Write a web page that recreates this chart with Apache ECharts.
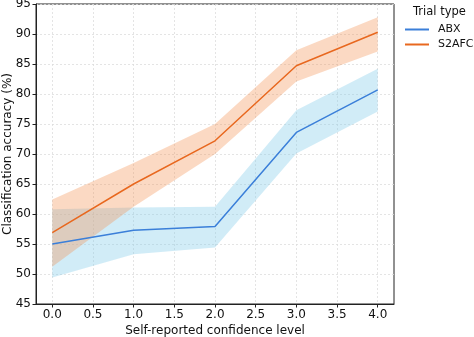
<!DOCTYPE html>
<html>
<head>
<meta charset="utf-8">
<script src="https://cdn.jsdelivr.net/npm/echarts@6/dist/echarts.min.js"></script>
<style>html,body{margin:0;padding:0;background:#fff}#c{width:474px;height:337px}</style>
</head>
<body>
<div id="c"></div>
<script>
const confidence = [0, 1, 2, 3, 4];
const xTicks = [0, 0.5, 1, 1.5, 2, 2.5, 3, 3.5, 4];
const abxMean  = [55.0, 57.3, 57.9, 73.6, 80.7];
const abxLow   = [49.4, 53.3, 54.4, 70.1, 77.1];
const abxHigh  = [60.8, 61.1, 61.2, 77.3, 84.2];
const s2Mean   = [56.9, 65.0, 72.2, 84.7, 90.3];
const s2Low    = [51.2, 61.2, 70.0, 82.1, 87.1];
const s2High   = [62.4, 68.5, 75.0, 87.3, 92.8];

const pairs = (ys) => confidence.map((x, i) => [x, ys[i]]);
const triples = (lo, hi) => confidence.map((x, i) => [x, lo[i], hi[i]]);

function bandRender(color) {
  return function (params, api) {
    if (params.dataIndexInside !== 0) return null;
    const n = params.dataInsideLength;
    const top = [], bottom = [];
    for (let j = 0; j < n; j++) {
      const x = api.value(0, j);
      top.push(api.coord([x, api.value(2, j)]));
      bottom.push(api.coord([x, api.value(1, j)]));
    }
    const pts = top.concat(bottom.reverse());
    return { type: 'polygon', shape: { points: pts }, style: { fill: color, stroke: null } };
  };
}

const font = 'DejaVu Sans';
const fs = 12;
const chart = echarts.init(document.getElementById('c'));
chart.setOption({
  animation: false,
  textStyle: { fontFamily: font },
  title: { text: 'Trial type', left: 413, top: 6, padding: 0, textStyle: { fontFamily: font, fontSize: 11.5, fontWeight: 'normal', color: '#111' } },
  legend: {
    data: ['ABX', 'S2AFC'], orient: 'vertical', left: 405, top: 23, padding: 0,
    icon: 'rect', itemWidth: 24, itemHeight: 2, itemGap: 2,
    textStyle: { fontFamily: font, fontSize: 11, color: '#111', padding: [0, 0, 0, 4], lineHeight: 13 }
  },
  grid: { left: 36, right: 80, top: 4, bottom: 33, containLabel: false, outerBoundsMode: 'none', show: true, borderColor: '#222', borderWidth: 1, backgroundColor: 'transparent' },
  xAxis: {
    type: 'value', min: -0.2, max: 4.2,
    name: 'Self-reported confidence level', nameLocation: 'middle', nameGap: 21, nameMoveOverlap: false,
    nameTextStyle: { fontFamily: font, fontSize: fs, color: '#111' },
    axisLine: { onZero: false, lineStyle: { color: '#222' } },
    axisTick: { show: true, customValues: xTicks, length: 3.5, lineStyle: { color: '#222' } },
    axisLabel: { customValues: xTicks, fontFamily: font, fontSize: fs, color: '#111', margin: 5, formatter: v => v.toFixed(1) },
    splitLine: { show: true, lineStyle: { color: '#ddd', type: [2, 2], width: 0.8 } }
  },
  yAxis: {
    type: 'value', min: 45, max: 95, interval: 5,
    name: 'Classification accuracy (%)', nameLocation: 'middle', nameGap: 22, nameMoveOverlap: false,
    nameTextStyle: { fontFamily: font, fontSize: fs, color: '#111' },
    axisLine: { show: true, onZero: false, lineStyle: { color: '#222' } },
    axisTick: { show: true, length: 3.5, lineStyle: { color: '#222' } },
    axisLabel: { fontFamily: font, fontSize: fs, color: '#111', margin: 5 },
    splitLine: { show: true, lineStyle: { color: '#ddd', type: [2, 2], width: 0.8 } }
  },
  series: [
    { name: 'abxBand', type: 'custom', data: triples(abxLow, abxHigh), renderItem: bandRender('rgba(135,206,235,0.38)'), silent: true, z: 1, encode: { x: 0, y: [1, 2] } },
    { name: 's2Band', type: 'custom', data: triples(s2Low, s2High), renderItem: bandRender('rgba(245,150,90,0.36)'), silent: true, z: 2, encode: { x: 0, y: [1, 2] } },
    { name: 'ABX', type: 'line', data: pairs(abxMean), symbol: 'none', color: '#3b7fd9', lineStyle: { width: 1.5, color: '#3b7fd9' }, z: 5 },
    { name: 'S2AFC', type: 'line', data: pairs(s2Mean), symbol: 'none', color: '#e8681f', lineStyle: { width: 1.5, color: '#e8681f' }, z: 5 }
  ]
});
</script>
</body>
</html>
